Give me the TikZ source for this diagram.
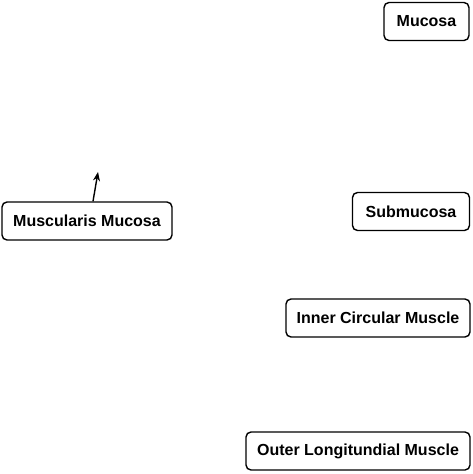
\documentclass[tikz,border=0pt]{standalone}
\usepackage{fontspec}
\setmainfont{Liberation Sans}
\usetikzlibrary{arrows.meta}
\tikzset{
  layer/.style={draw, line width=1.4pt, rounded corners=5pt, inner sep=0pt,
    minimum height=38pt, font=\fontsize{16}{19}\selectfont\bfseries},
}
\begin{document}
\begin{tikzpicture}[x=1pt, y=-1pt]
        \useasboundingbox (0,0) rectangle (472,474);
        \node[layer, minimum width=85pt] (mucosa) at (426.5,21.5) {Mucosa};
        \node[layer, minimum width=117pt] (submucosa) at (411,211.5) {Submucosa};
        \node[layer, minimum width=170pt] (muscmuc) at (87,221) {Muscularis Mucosa};
        \node[layer, minimum width=184pt] (inner) at (378,318) {Inner Circular Muscle};
        \node[layer, minimum width=224pt] (outer) at (358,451) {Outer Longitundial Muscle};
        \coordinate (tip) at (98,172);
        \draw[line width=1.4pt, -{Stealth[length=9pt, width=7pt]}] (muscmuc.north -| 93,0) -- (tip);
    \end{tikzpicture}
\end{document}
